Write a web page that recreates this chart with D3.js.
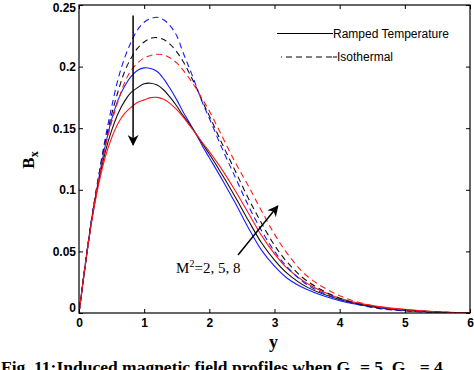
<!DOCTYPE html>
<html>
<head>
<meta charset="utf-8">
<script src="https://cdn.jsdelivr.net/npm/d3@7"></script>
<style>
  html, body { margin: 0; padding: 0; background: #fff; }
  svg { display: block; }
</style>
</head>
<body>
<svg id="chart" width="474" height="370"></svg>
<script>
// ---- data ----
const yGrid = [0, 0.1, 0.2, 0.3, 0.4, 0.5, 0.6, 0.7, 0.8, 0.9, 1.0, 1.1, 1.2, 1.3, 1.4, 1.5, 1.6, 1.7, 1.8, 1.9, 2.0, 2.2, 2.4, 2.6, 2.8, 3.0, 3.2, 3.5, 4.0, 4.5, 5.0, 5.5, 6.0];

// Ramped temperature (solid)
const rampM2 = [0, 0.041, 0.078, 0.108, 0.135, 0.157, 0.173, 0.184, 0.192, 0.197, 0.199, 0.1985, 0.196, 0.190, 0.182, 0.173, 0.163, 0.154, 0.145, 0.135, 0.126, 0.108, 0.089, 0.069, 0.051, 0.038, 0.028, 0.019, 0.010, 0.005, 0.002, 0.0006, 0];
const rampM5 = [0, 0.040, 0.077, 0.106, 0.130, 0.148, 0.162, 0.172, 0.179, 0.183, 0.186, 0.1865, 0.185, 0.181, 0.175, 0.168, 0.160, 0.153, 0.145, 0.137, 0.129, 0.112, 0.094, 0.075, 0.057, 0.043, 0.032, 0.021, 0.011, 0.0055, 0.0025, 0.0008, 0];
const rampM8 = [0, 0.040, 0.076, 0.104, 0.126, 0.142, 0.154, 0.162, 0.167, 0.171, 0.173, 0.1748, 0.175, 0.1735, 0.170, 0.165, 0.159, 0.152, 0.145, 0.138, 0.131, 0.116, 0.099, 0.081, 0.063, 0.048, 0.036, 0.024, 0.012, 0.006, 0.003, 0.001, 0];

// Isothermal (dashed)
const isoM2 = [0, 0.041, 0.079, 0.111, 0.141, 0.167, 0.190, 0.207, 0.220, 0.230, 0.236, 0.239, 0.240, 0.238, 0.233, 0.225, 0.211, 0.198, 0.184, 0.170, 0.158, 0.133, 0.110, 0.087, 0.067, 0.050, 0.037, 0.023, 0.011, 0.0045, 0.0017, 0.0005, 0];
const isoM5 = [0, 0.041, 0.078, 0.110, 0.138, 0.161, 0.180, 0.196, 0.207, 0.215, 0.220, 0.223, 0.2235, 0.222, 0.218, 0.212, 0.204, 0.194, 0.183, 0.171, 0.160, 0.137, 0.115, 0.093, 0.073, 0.055, 0.041, 0.026, 0.012, 0.005, 0.002, 0.0007, 0];
const isoM8 = [0, 0.041, 0.077, 0.108, 0.134, 0.155, 0.172, 0.187, 0.197, 0.203, 0.207, 0.209, 0.210, 0.2095, 0.207, 0.203, 0.197, 0.190, 0.182, 0.173, 0.164, 0.143, 0.122, 0.103, 0.083, 0.064, 0.048, 0.030, 0.014, 0.006, 0.0025, 0.0008, 0];

const seriesNames = ["rampM2", "rampM5", "rampM8", "isoM2", "isoM5", "isoM8"];
const seriesValues = [rampM2, rampM5, rampM8, isoM2, isoM5, isoM8];
const seriesColors = ["#1a1aff", "#111111", "#ff1a1a", "#1a1aff", "#111111", "#ff1a1a"];
const seriesDashed = [false, false, false, true, true, true];

const xTicks = [0, 1, 2, 3, 4, 5, 6];
const yTicks = [0, 0.05, 0.1, 0.15, 0.2, 0.25];
const yTickLabels = ["0", "0.05", "0.1", "0.15", "0.2", "0.25"];

const legendLabels = ["Ramped Temperature", "Isothermal"];

// annotation arrows in data coordinates
const arrowDown = { x1: 0.83, y1: 0.2415, x2: 0.83, y2: 0.1365 };
const arrowUp = { x1: 2.44, y1: 0.047, x2: 3.05, y2: 0.0868 };
const annotLabel = { x: 1.49, y: 0.0325 };

// ---- layout ----
const svg = d3.select("#chart");
const pL = 79, pR = 470, pT = 5, pB = 313;

const x = d3.scaleLinear().domain([0, 6]).range([pL, pR]);
const y = d3.scaleLinear().domain([0, 0.25]).range([pB, pT]);

// defs: arrowhead
const defs = svg.append("defs");
defs.append("marker")
  .attr("id", "ah")
  .attr("viewBox", "0 0 10 10")
  .attr("refX", 9).attr("refY", 5)
  .attr("markerWidth", 11).attr("markerHeight", 11)
  .attr("markerUnits", "userSpaceOnUse")
  .attr("orient", "auto")
  .append("path")
  .attr("d", "M0,0 L10,5 L0,10 L3,5 Z")
  .attr("fill", "#000");

defs.append("clipPath").attr("id", "clip")
  .append("rect").attr("x", pL).attr("y", pT).attr("width", pR - pL).attr("height", pB - pT);

// lines
const line = d3.line()
  .x((d, i) => x(yGrid[i]))
  .y(d => y(d))
  .curve(d3.curveCatmullRom.alpha(0.5));

const g = svg.append("g").attr("clip-path", "url(#clip)");
seriesValues.forEach((vals, k) => {
  g.append("path")
    .datum(vals)
    .attr("class", seriesNames[k])
    .attr("fill", "none")
    .attr("stroke", seriesColors[k])
    .attr("stroke-width", 1.1)
    .attr("stroke-dasharray", seriesDashed[k] ? "6,4" : null)
    .attr("d", line);
});

// axes
const tickFont = "Liberation Sans, Arial, Helvetica, sans-serif";
const axB = svg.append("g").attr("transform", `translate(0,${pB})`)
  .call(d3.axisBottom(x).tickValues(xTicks).tickFormat(d3.format("d")).tickSizeInner(-4).tickSizeOuter(0).tickPadding(5));
const axL = svg.append("g").attr("transform", `translate(${pL},0)`)
  .call(d3.axisLeft(y).tickValues(yTicks).tickFormat((d, i) => yTickLabels[i]).tickSizeInner(-4).tickSizeOuter(0).tickPadding(3));
const axT = svg.append("g").attr("transform", `translate(0,${pT})`)
  .call(d3.axisTop(x).tickValues(xTicks).tickFormat("").tickSizeInner(-4).tickSizeOuter(0));
const axR = svg.append("g").attr("transform", `translate(${pR},0)`)
  .call(d3.axisRight(y).tickValues(yTicks).tickFormat("").tickSizeInner(-4).tickSizeOuter(0));

[axB, axL, axT, axR].forEach(a => {
  a.select(".domain").remove();
  a.selectAll(".tick line").attr("stroke", "#000").attr("stroke-width", 1);
  a.selectAll(".tick text")
    .attr("fill", "#000")
    .style("font-family", tickFont)
    .style("font-size", "12px")
    .style("font-weight", "bold");
});
// the "0" on the y axis sits slightly above its tick, as in the reference
axL.selectAll(".tick text").filter(d => d === 0).attr("dy", "-0.1em");
// keep the top label inside the picture
axL.selectAll(".tick text").filter(d => d === 0.25).attr("dy", "0.55em");

// frame
svg.append("rect")
  .attr("x", pL).attr("y", pT)
  .attr("width", pR - pL).attr("height", pB - pT)
  .attr("fill", "none").attr("stroke", "#000").attr("stroke-width", 1.2);

// axis titles
svg.append("text")
  .attr("x", (pL + pR) / 2 - 1).attr("y", 348)
  .attr("text-anchor", "middle")
  .style("font-family", "Liberation Serif, Times New Roman, serif")
  .style("font-size", "18px").style("font-weight", "bold")
  .text("y");

const yl = svg.append("text")
  .attr("transform", "translate(34,160) rotate(-90)")
  .attr("text-anchor", "middle")
  .style("font-family", "Liberation Serif, Times New Roman, serif")
  .style("font-weight", "bold");
yl.append("tspan").style("font-size", "17px").text("B");
yl.append("tspan").attr("dy", 4).style("font-size", "12px").text("x");

// legend
const legFont = "Liberation Sans, Arial, Helvetica, sans-serif";
const leg = svg.append("g");
leg.append("line").attr("x1", 277).attr("x2", 333).attr("y1", 33.5).attr("y2", 33.5)
  .attr("stroke", "#000").attr("stroke-width", 1);
leg.append("text").attr("x", 333).attr("y", 37.5)
  .style("font-family", legFont).style("font-size", "12px")
  .text(legendLabels[0]);
leg.append("line").attr("x1", 281).attr("x2", 337).attr("y1", 57).attr("y2", 57)
  .attr("stroke", "#000").attr("stroke-width", 1).attr("stroke-dasharray", "1,4,6,4,6,4,6,4,6,4,6");
leg.append("text").attr("x", 337).attr("y", 61)
  .style("font-family", legFont).style("font-size", "12px")
  .text(legendLabels[1]);

// arrows
[arrowDown, arrowUp].forEach(a => {
  svg.append("line")
    .attr("x1", x(a.x1)).attr("y1", y(a.y1))
    .attr("x2", x(a.x2)).attr("y2", y(a.y2))
    .attr("stroke", "#000").attr("stroke-width", 1.5)
    .attr("marker-end", "url(#ah)");
});

// annotation
const at = svg.append("text")
  .attr("x", x(annotLabel.x)).attr("y", y(annotLabel.y))
  .style("font-family", "Liberation Serif, Times New Roman, serif")
  .style("font-size", "15px");
at.append("tspan").text("M");
at.append("tspan").attr("dy", -6).style("font-size", "10px").text("2");
at.append("tspan").attr("dy", 6).text("=2, 5, 8");

// caption (only its upper part is visible, as in the reference)
const cap = svg.append("text")
  .attr("x", 1).attr("y", 373)
  .style("font-family", "Liberation Serif, Times New Roman, serif")
  .style("font-size", "17.5px").style("font-weight", "bold");
cap.append("tspan").text("Fig. 11:Induced magnetic field profiles when G");
cap.append("tspan").attr("dy", 4).style("font-size", "12px").text("r");
cap.append("tspan").attr("dy", -4).text(" = 5, G");
cap.append("tspan").attr("dy", 4).style("font-size", "12px").text("m");
cap.append("tspan").attr("dy", -4).text(" = 4");
</script>
</body>
</html>
